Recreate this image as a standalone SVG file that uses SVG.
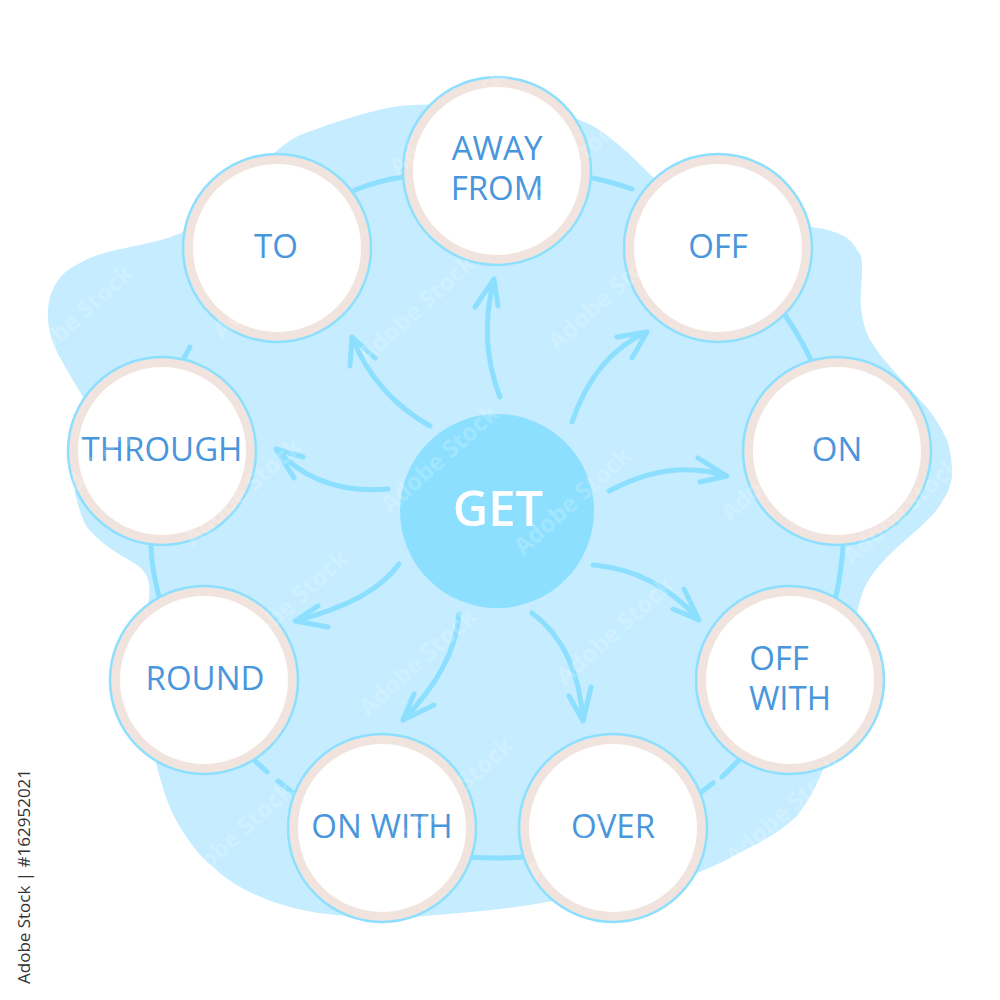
<svg xmlns="http://www.w3.org/2000/svg" width="1000" height="1000" viewBox="0 0 1000 1000">
<style>
.arc{fill:none;stroke:#8cdfff;stroke-width:5;stroke-linecap:round;stroke-linejoin:round}
.ring{fill:#fff;stroke:#f1e4de;stroke-width:10}
.edge{fill:none;stroke:#8cdfff;stroke-width:2.5}
.lbl{font-family:"Open Sans","Noto Sans",sans-serif;font-size:33px;fill:#4a96dc;text-anchor:middle}
.wm{font-family:"Open Sans",sans-serif;font-size:24px;font-weight:700;fill:#fff;fill-opacity:.2;text-anchor:middle}
</style>
<defs>
<g id="n"><circle class="ring" r="89"/><circle class="edge" r="94"/></g>
</defs>
<rect width="1000" height="1000" fill="#fff"/>
<path id="blob" fill="#c5edff" d="M183 232C165 240 150 243 130 247C105 252 92 256 80 263C65 270 55 280 50 297C46 312 48 330 53 343C60 360 72 378 83 397C95 420 72 470 75 493C78 505 82 520 87 527C95 537 105 545 117 553C130 561 140 565 145 573C150 580 151 595 147 607C135 650 145 720 157 767C163 790 168 805 176 820C186 838 198 855 213 867C230 883 248 892 268 900C290 908 312 913 336 915C365 918 390 919 414 917C460 913 505 910 547 902C600 893 650 890 697 873C715 866 730 858 745 850C765 840 782 830 796 817C808 802 816 787 823 770C835 735 845 660 857 613C860 600 863 590 867 583C873 572 880 565 887 557C897 547 908 538 920 527C930 518 938 510 943 500C950 490 953 478 952 467C951 455 950 450 947 440C940 425 932 412 920 400C910 388 898 376 887 363C878 353 876 348 870 340C865 330 862 318 861 307C860 295 862 282 862 270C862 260 862 255 857 250C852 240 845 236 837 233C830 230 820 228 812 227C770 222 700 215 653 177C635 160 612 135 587 123C540 103 460 102 400 106C370 110 335 122 300 135C270 148 235 200 183 232Z"/>
<g id="connectors">
<path class="arc" d="M355 190Q380 180 403 177M593 178Q615 183 632 189M785 315Q800 337 812 362M843 547Q841 575 835 600M739 760L722 777M713 783L699 794M470 857Q496 859 522 857M293 793L278 781M267 772L254 760M151 547Q152 572 160 600M183 360L190 347"/>
<path class="arc" d="M500 397Q478 340 494 280M475 307L494 279L498 306"/>
<path class="arc" d="M572 422Q595 355 647 332M617 337L647 332L632 358"/>
<path class="arc" d="M609 491Q670 458 727 476M698 458L727 476L700 482"/>
<path class="arc" d="M593 565Q655 570 699 620M684 589L699 620L673 609"/>
<path class="arc" d="M532 613Q578 647 583 721M569 696L583 721L591 687"/>
<path class="arc" d="M459 614Q455 667 403 720M414 694L403 720L434 705"/>
<path class="arc" d="M399 564Q373 601 295 621M318 606L295 621L328 627"/>
<path class="arc" d="M388 489Q318 495 276 449M303 457L276 449L294 478"/>
<path class="arc" d="M430 426Q375 395 352 337M350 366L352 337L375 358"/>
</g>
<g id="center"><circle cx="497" cy="511" r="97" fill="#8cdfff"/><text x="498" y="526" font-family="'Open Sans','Noto Sans',sans-serif" font-size="49" font-weight="600" fill="#fff" text-anchor="middle">GET</text></g>
<g id="away-from"><use href="#n" x="497" y="171"/><text class="lbl"><tspan x="497" y="160">AWAY</tspan><tspan x="497" y="200">FROM</tspan></text></g>
<g id="off"><use href="#n" x="718" y="248"/><text class="lbl" x="718" y="258">OFF</text></g>
<g id="on"><use href="#n" x="837" y="451"/><text class="lbl" x="837" y="461">ON</text></g>
<g id="off-with"><use href="#n" x="790" y="680"/><text class="lbl"><tspan x="779" y="670">OFF</tspan><tspan x="790" y="710">WITH</tspan></text></g>
<g id="over"><use href="#n" x="613" y="828"/><text class="lbl" x="613" y="838">OVER</text></g>
<g id="on-with"><use href="#n" x="382" y="828"/><text class="lbl" x="382" y="838">ON WITH</text></g>
<g id="round"><use href="#n" x="204" y="680"/><text class="lbl" x="205" y="690">ROUND</text></g>
<g id="through"><use href="#n" x="162" y="451"/><text class="lbl" x="162" y="461">THROUGH</text></g>
<g id="to"><use href="#n" x="277" y="248"/><text class="lbl" x="276" y="258">TO</text></g>
<g id="watermark">
<text class="wm" transform="translate(80 325) rotate(-42)">Adobe Stock</text>
<text class="wm" transform="translate(277 290) rotate(-42)">Adobe Stock</text>
<text class="wm" transform="translate(118 455) rotate(-42)">Adobe Stock</text>
<text class="wm" transform="translate(248 498) rotate(-42)">Adobe Stock</text>
<text class="wm" transform="translate(785 473) rotate(-42)">Adobe Stock</text>
<text class="wm" transform="translate(907 517) rotate(-42)">Adobe Stock</text>
<text class="wm" transform="translate(453 127) rotate(-42)">Adobe Stock</text>
<text class="wm" transform="translate(570 175) rotate(-42)">Adobe Stock</text>
<text class="wm" transform="translate(612 302) rotate(-42)">Adobe Stock</text>
<text class="wm" transform="translate(422 315) rotate(-42)">Adobe Stock</text>
<text class="wm" transform="translate(578 507) rotate(-42)">Adobe Stock</text>
<text class="wm" transform="translate(445 465) rotate(-42)">Adobe Stock</text>
<text class="wm" transform="translate(423 668) rotate(-42)">Adobe Stock</text>
<text class="wm" transform="translate(620 637) rotate(-42)">Adobe Stock</text>
<text class="wm" transform="translate(240 842) rotate(-42)">Adobe Stock</text>
<text class="wm" transform="translate(460 797) rotate(-42)">Adobe Stock</text>
<text class="wm" transform="translate(591 832) rotate(-42)">Adobe Stock</text>
<text class="wm" transform="translate(790 817) rotate(-42)">Adobe Stock</text>
<text class="wm" transform="translate(295 610) rotate(-42)">Adobe Stock</text>
</g>
<text id="credit" transform="translate(30 984) rotate(-90)" font-family="'Open Sans','Noto Sans',sans-serif" font-size="17" fill="#333">Adobe Stock | #162952021</text>
</svg>
